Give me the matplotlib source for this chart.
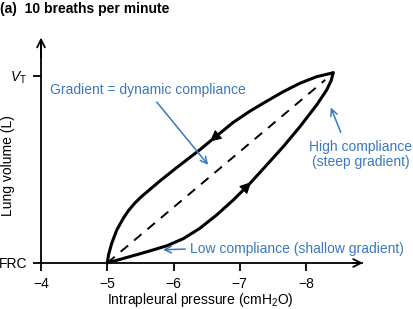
import matplotlib
matplotlib.use("Agg")
import matplotlib.pyplot as plt

plt.rcParams['font.family'] = ['Liberation Sans', 'DejaVu Sans']
plt.rcParams['mathtext.fontset'] = 'custom'
plt.rcParams['mathtext.rm'] = 'Liberation Sans'
plt.rcParams['mathtext.it'] = 'Liberation Sans:italic'

# --- Data (pressure in cmH2O, volume: FRC=0, VT=1) ---
inflate_p = [-5.0, -5.3, -5.6, -5.9, -6.148, -6.40, -6.652, -6.903, -7.155, -7.407,
             -7.657, -7.909, -8.161, -8.312, -8.38, -8.41]
inflate_v = [0.0, 0.03, 0.06, 0.092, 0.13, 0.186, 0.257, 0.337, 0.426, 0.524,
             0.622, 0.729, 0.845, 0.925, 0.975, 1.017]
deflate_p = [-8.41, -8.161, -7.909, -7.657, -7.407, -7.155, -6.903, -6.652, -6.40,
             -6.048, -5.80, -5.65, -5.52, -5.42, -5.32, -5.242, -5.143, -5.067, -5.02, -5.0]
deflate_v = [1.017, 0.996, 0.961, 0.916, 0.865, 0.812, 0.752, 0.68, 0.606,
             0.51, 0.44, 0.395, 0.356, 0.322, 0.28, 0.239, 0.176, 0.105, 0.045, 0.0]
dyn_p = [-5.0, -8.29]
dyn_v = [0.0, 0.979]

x_ticks = [-4, -5, -6, -7, -8]
x_labels = ['\u22124', '\u22125', '\u22126', '\u22127', '\u22128']
y_ticks = [0, 1]
y_labels = ['FRC', r'$V_{\mathrm{T}}$']

blue = '#3a78bf'

fig = plt.figure(figsize=(4.14, 3.09), dpi=100)
ax = fig.add_axes([0, 0, 1, 1])
ax.set_xlim(-3.381, -9.630)
ax.set_ylim(-0.246, 1.406)
ax.patch.set_alpha(0)

# axes through the origin
for s in ['top', 'right']:
    ax.spines[s].set_visible(False)
ax.spines['left'].set_position(('data', -4))
ax.spines['bottom'].set_position(('data', 0))
ax.spines['left'].set_bounds(0, 1.19)
ax.spines['bottom'].set_bounds(-4, -8.84)
ax.spines['left'].set_linewidth(1.3)
ax.spines['bottom'].set_linewidth(1.3)
ax.annotate('', xy=(-4, 1.205), xytext=(-4, 1.10),
            arrowprops=dict(arrowstyle='->', lw=1.3, color='k', mutation_scale=14,
                            shrinkA=0, shrinkB=0))
ax.annotate('', xy=(-8.86, 0), xytext=(-8.70, 0),
            arrowprops=dict(arrowstyle='->', lw=1.3, color='k', mutation_scale=14,
                            shrinkA=0, shrinkB=0))

ax.set_xticks(x_ticks)
ax.set_xticklabels(x_labels, fontsize=10)
ax.set_yticks(y_ticks)
ax.set_yticklabels(y_labels, fontsize=10)
ax.tick_params(direction='out', length=6, width=1.3, pad=4)

# loop + dynamic compliance line
ax.plot(inflate_p, inflate_v, color='k', lw=2.2, solid_joinstyle='round', solid_capstyle='round')
ax.plot(deflate_p, deflate_v, color='k', lw=2.2, solid_joinstyle='round', solid_capstyle='round')
ax.plot(dyn_p, dyn_v, color='k', lw=1.4, dashes=(5, 4))

# direction arrows on the loop
head = dict(arrowstyle='-|>,head_length=0.55,head_width=0.28', color='k', lw=1,
            mutation_scale=12, shrinkA=0, shrinkB=0)
ax.annotate('', xy=(-7.17, 0.432), xytext=(inflate_p[7], inflate_v[7]), arrowprops=head)
ax.annotate('', xy=(-6.55, 0.65), xytext=(deflate_p[6], deflate_v[6]), arrowprops=head)

# annotations
ax.text(-4.136, 0.925, 'Gradient = dynamic compliance', color=blue, fontsize=10,
        ha='left', va='center')
ax.annotate('', xy=(-6.55, 0.513), xytext=(-5.72, 0.872),
            arrowprops=dict(arrowstyle='->', color=blue, lw=1.1, mutation_scale=12))
ax.text(-8.83, 0.58, 'High compliance\n(steep gradient)', color=blue, fontsize=10,
        ha='center', va='center', linespacing=1.05)
ax.annotate('', xy=(-8.36, 0.845), xytext=(-8.54, 0.684),
            arrowprops=dict(arrowstyle='->', color=blue, lw=1.1, mutation_scale=12))
ax.text(-6.25, 0.075, 'Low compliance (shallow gradient)', color=blue, fontsize=10,
        ha='left', va='center')
ax.annotate('', xy=(-5.80, 0.07), xytext=(-6.22, 0.075),
            arrowprops=dict(arrowstyle='->', color=blue, lw=1.1, mutation_scale=12))

# labels and title
fig.text(8 / 414, 1 - 166 / 309, 'Lung volume (L)', rotation=90, fontsize=10,
         ha='center', va='center')
fig.text(200 / 414, 1 - 300 / 309, 'Intrapleural pressure (cmH$_2$O)', fontsize=10,
         ha='center', va='center')
fig.text(0.0, 1 - 9 / 309, '(a)  10 breaths per minute', fontsize=10,
         fontweight='bold', ha='left', va='center')

fig.savefig('out.png', dpi=100)
